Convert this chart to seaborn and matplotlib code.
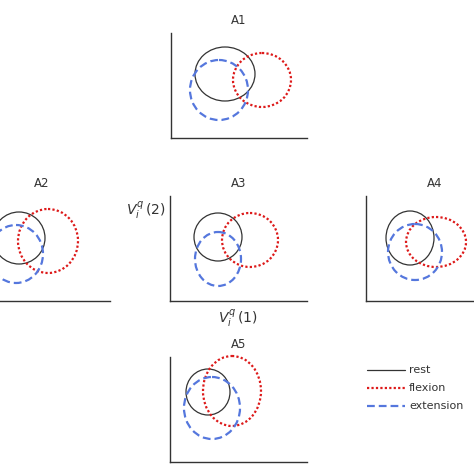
import matplotlib
matplotlib.use("Agg")
import matplotlib.pyplot as plt
from matplotlib.patches import Ellipse
import seaborn as sns

sns.set_style("white")

# panel boxes in pixel units: left, right, top, bottom
panels = ["A1", "A2", "A3", "A4", "A5"]
box_left = [171, -27, 170, 366, 170]
box_right = [307, 110, 307, 503, 307]
box_top = [33, 196, 196, 196, 357]
box_bottom = [138, 301, 301, 301, 462]

states = ["rest", "flexion", "extension"]
colors = ["#333333", "#dd1a1a", "#5577dd"]
styles = ["-", (0, (1, 1)), (0, (3.5, 1.8))]
widths = [0.9, 1.6, 1.6]

# ellipse centres and radii (pixels), per panel, per state
cx = [[225, 262, 219], [19, 48, 16], [218, 250, 218], [410, 436, 415], [208, 232, 212]]
cy = [[74, 80, 90], [238, 241, 254], [237, 240, 259], [238, 242, 252], [392, 391, 408]]
rx = [[30, 29, 29], [26, 30, 27], [24, 28, 23], [24, 30, 27], [22, 29, 28]]
ry = [[27, 27, 30], [26, 32, 29], [24, 27, 27], [27, 25, 28], [23, 35, 31]]

W = H = 474
fig = plt.figure(figsize=(4.74, 4.74), dpi=100)

for i, name in enumerate(panels):
    l, r, t, b = box_left[i], box_right[i], box_top[i], box_bottom[i]
    ax = fig.add_axes([l / W, 1 - b / H, (r - l) / W, (b - t) / H])
    ax.set_xlim(l, r)
    ax.set_ylim(b, t)
    ax.set_xticks([])
    ax.set_yticks([])
    sns.despine(ax=ax)
    for s in ["left", "bottom"]:
        ax.spines[s].set_color("#333333")
        ax.spines[s].set_linewidth(1.0)
    for j in range(len(states)):
        ax.add_patch(Ellipse((cx[i][j], cy[i][j]), 2 * rx[i][j], 2 * ry[i][j],
                             fill=False, edgecolor=colors[j], linestyle=styles[j],
                             linewidth=widths[j], clip_on=False))
    fig.text((l + r) / 2 / W, 1 - (t - 12) / H, name, ha="center", va="center",
             fontsize=8.5, color="#333333")

# axis labels on A3
fig.text(146 / W, 1 - 210 / H, r"$V_i^q\,(2)$", ha="center", va="center",
         fontsize=10, family="serif", color="#333333")
fig.text(238 / W, 1 - 318 / H, r"$V_i^q\,(1)$", ha="center", va="center",
         fontsize=10, family="serif", color="#333333")

# legend
for j, s in enumerate(states):
    y = 1 - (370 + 18 * j) / H
    fig.add_artist(plt.Line2D([367 / W, 405 / W], [y, y], color=colors[j],
                              linestyle=styles[j], linewidth=widths[j]))
    fig.text(409 / W, y, s, ha="left", va="center", fontsize=8, color="#333333")

fig.savefig("out.png", dpi=100)
